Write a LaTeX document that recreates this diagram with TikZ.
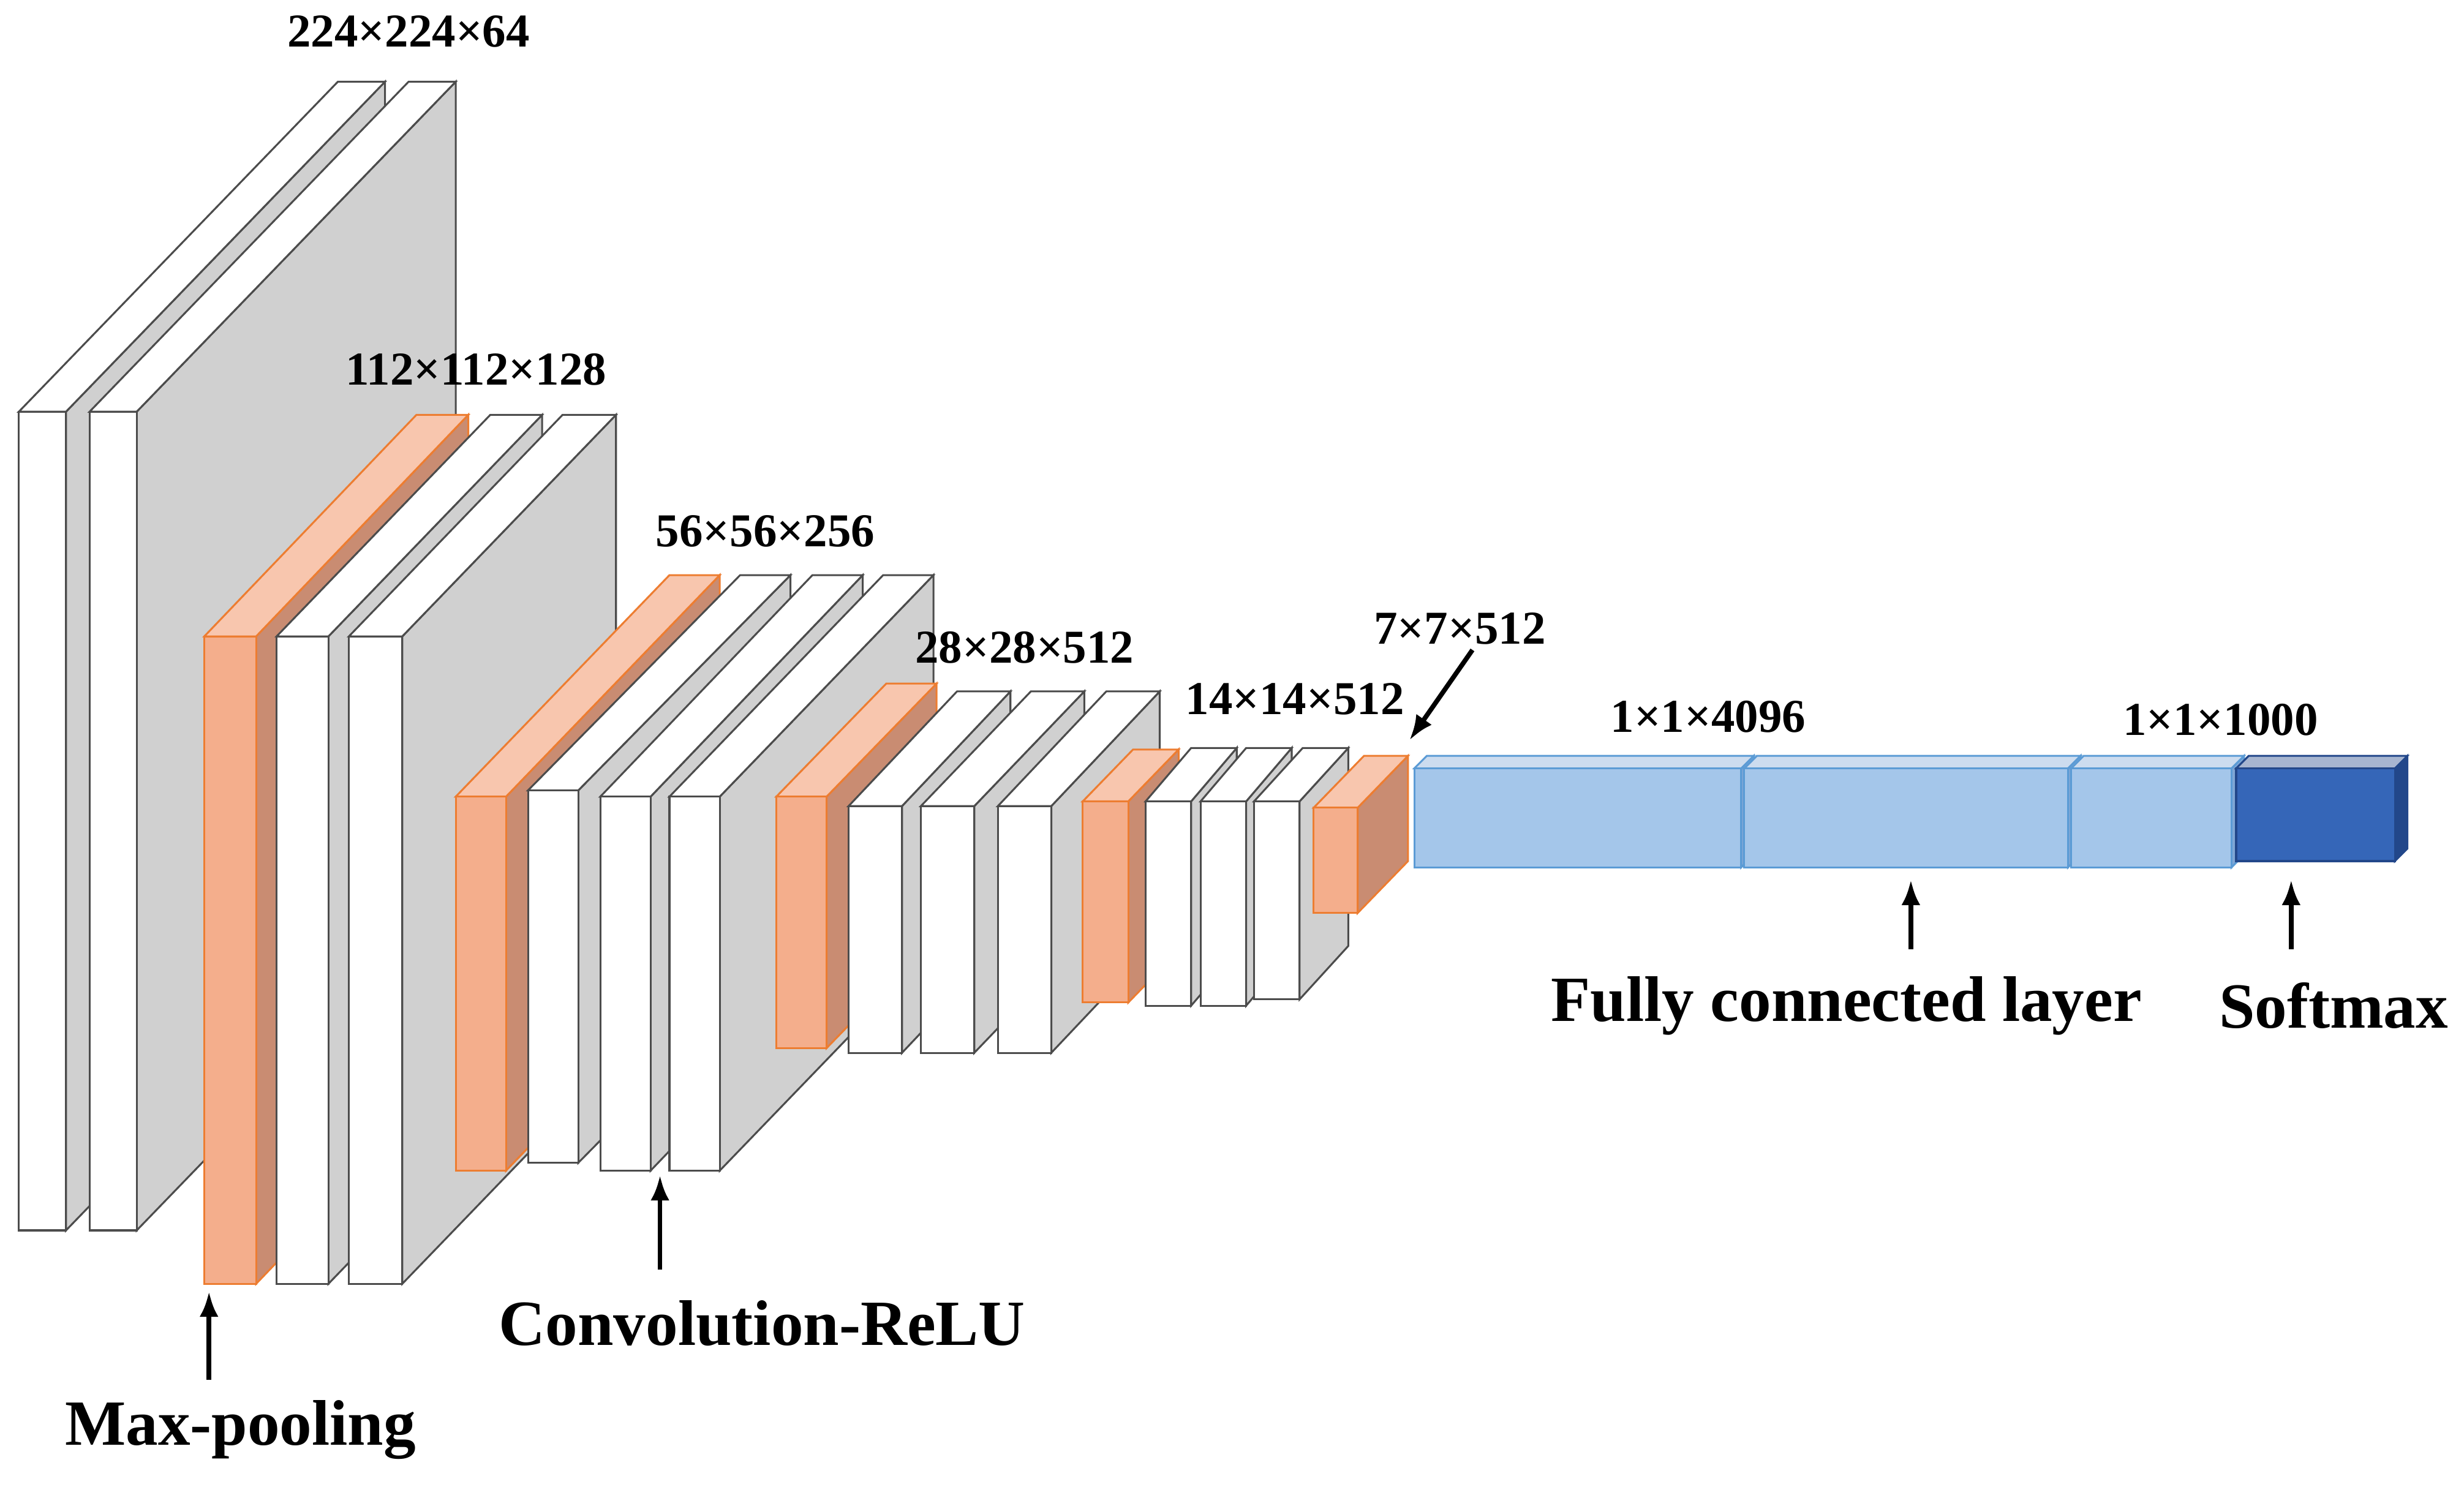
\documentclass[tikz,border=0pt]{standalone}
\usepackage{fontspec}
\setmainfont{Liberation Serif}
\usetikzlibrary{arrows.meta}
\definecolor{orF}{HTML}{F4AE8C}\definecolor{orT}{HTML}{F8C6AE}\definecolor{orS}{HTML}{C98C72}\definecolor{orD}{HTML}{ED7D31}
\definecolor{blF}{HTML}{A4C6EA}\definecolor{blT}{HTML}{BDD7EE}\definecolor{blS}{HTML}{7FA7D6}\definecolor{blD}{HTML}{5B9BD5}
\definecolor{dbF}{HTML}{3566B8}\definecolor{dbT}{HTML}{5A82C8}\definecolor{dbS}{HTML}{22478A}
\definecolor{grS}{HTML}{D0D0D0}
\newcommand\slab[9]{%
 \filldraw[draw=#9,fill=#8,line width=1.2] (#2,#3)--(#2+#5,#3-#6)--(#2+#5,#4-#6)--(#2,#4)--cycle;
 \filldraw[draw=#9,fill=#8!40!white,line width=1.2] (#1,#3)--(#1+#5,#3-#6)--(#2+#5,#3-#6)--(#2,#3)--cycle;
 \filldraw[draw=#9,fill=#7,line width=1.2] (#1,#3) rectangle (#2,#4);}
\newcommand\wslab[6]{%
 \filldraw[draw=black!70,fill=grS,line width=1.2] (#2,#3)--(#2+#5,#3-#6)--(#2+#5,#4-#6)--(#2,#4)--cycle;
 \filldraw[draw=black!70,fill=white,line width=1.2] (#1,#3)--(#1+#5,#3-#6)--(#2+#5,#3-#6)--(#2,#3)--cycle;
 \filldraw[draw=black!70,fill=white,line width=1.2] (#1,#3) rectangle (#2,#4);}
\newcommand\oslab[6]{%
 \filldraw[draw=orD,fill=orS,line width=1.2] (#2,#3)--(#2+#5,#3-#6)--(#2+#5,#4-#6)--(#2,#4)--cycle;
 \filldraw[draw=orD,fill=orT,line width=1.2] (#1,#3)--(#1+#5,#3-#6)--(#2+#5,#3-#6)--(#2,#3)--cycle;
 \filldraw[draw=orD,fill=orF,line width=1.2] (#1,#3) rectangle (#2,#4);}
\tikzset{dim/.style={font=\fontsize{30}{33}\selectfont\bfseries},
 big/.style={font=\fontsize{41}{44}\selectfont\bfseries},
 arr/.style={-{Latex[length=16,width=12]},line width=3}}
\begin{document}
\begin{tikzpicture}[x=1pt,y=-1pt]
\useasboundingbox (0,0) rectangle (1568,946);
\wslab{12}{42}{262}{783}{203}{210}
\wslab{57}{87}{262}{783}{203}{210}
\oslab{130}{163}{405}{817}{135}{141}
\wslab{176}{209}{405}{817}{136}{141}
\wslab{222}{256}{405}{817}{136}{141}
\oslab{290}{322}{507}{745}{136}{141}
\wslab{336}{368}{503}{740}{135}{137}
\wslab{382}{414}{507}{745}{135}{141}
\wslab{426}{458}{507}{745}{136}{141}
\oslab{494}{526}{507}{667}{70}{72}
\wslab{540}{574}{513}{670}{69}{73}
\wslab{586}{620}{513}{670}{70}{73}
\wslab{635}{669}{513}{670}{69}{73}
\oslab{689}{718}{510}{638}{32}{33}
\wslab{729}{758}{510}{640}{29}{34}
\wslab{764}{793}{510}{640}{29}{34}
\wslab{798}{827}{510}{636}{31}{34}
\oslab{836}{864}{514}{581}{32}{33}
\slab{900}{1108}{489}{552}{8}{8}{blF}{blS}{blD}
\slab{1110}{1316}{489}{552}{8}{8}{blF}{blS}{blD}
\slab{1318}{1420}{489}{552}{8}{8}{blF}{blS}{blD}
\slab{1423}{1524}{489}{548}{8}{8}{dbF}{dbS}{dbS}
\node[dim] (l1) at (260,20) {224×224×64};
\node[dim] (l2) at (303,235) {112×112×128};
\node[dim] (l3) at (487,338) {56×56×256};
\node[dim] (l4) at (652,412) {28×28×512};
\node[dim] (l5) at (824,445) {14×14×512};
\node[dim] (l6) at (929,400) {7×7×512};
\node[dim] (l7) at (1087,456) {1×1×4096};
\node[dim] (l8) at (1413,458) {1×1×1000};
\coordinate (t6) at (897,471);
\draw[arr] (l6.south) ++(8,0) -- (t6);
\node[big] (mp) at (153,910) {Max-pooling};
\node[big] (cr) at (485,842) {Convolution-ReLU};
\node[big] (fc) at (1175,640) {Fully connected layer};
\node[big] (sm) at (1485,640) {Softmax};
\coordinate (amp) at (133,822); \coordinate (acr) at (420,748);
\coordinate (afc) at (1216,560); \coordinate (asm) at (1458,560);
\draw[arr] (133,878) -- (amp);
\draw[arr] (420,808) -- (acr);
\draw[arr] (1216,604) -- (afc);
\draw[arr] (1458,604) -- (asm);
\end{tikzpicture}
\end{document}
